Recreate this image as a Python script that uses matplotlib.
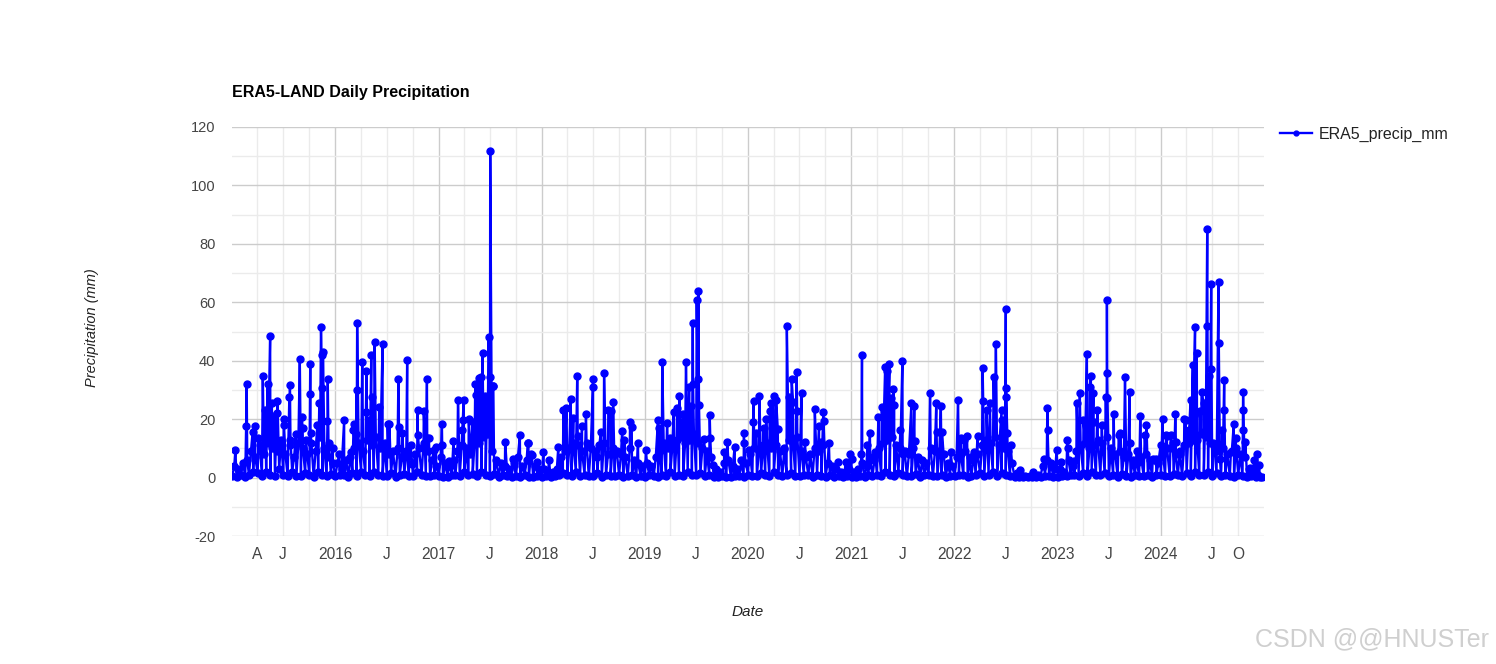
import matplotlib
matplotlib.use('Agg')
import matplotlib.pyplot as plt
import pandas as pd

plt.rcParams['font.family'] = ['Liberation Sans', 'DejaVu Sans']
plt.rcParams['axes.unicode_minus'] = False

# ---- notable rain events (date, mm) ----
spike_dates = [
    "2015-01-13", "2015-02-20", "2015-02-22", "2015-03-15", "2015-03-24", "2015-04-04", "2015-04-20",
    "2015-04-28", "2015-05-07", "2015-05-16", "2015-05-22", "2015-05-30", "2015-06-09", "2015-06-11",
    "2015-07-03", "2015-07-04", "2015-07-23", "2015-07-25", "2015-07-27", "2015-08-15", "2015-08-29",
    "2015-09-05", "2015-09-08", "2015-09-20", "2015-10-04", "2015-10-05", "2015-10-06", "2015-10-30",
    "2015-11-06", "2015-11-12", "2015-11-14", "2015-11-16", "2015-11-19", "2015-12-05", "2015-12-06",
    "2015-12-10", "2015-12-23",
    "2016-01-16", "2016-02-02", "2016-02-26", "2016-03-06", "2016-03-09", "2016-03-15", "2016-03-17",
    "2016-03-19", "2016-04-06", "2016-04-19", "2016-04-21", "2016-04-30", "2016-05-08", "2016-05-12",
    "2016-05-20", "2016-06-05", "2016-06-17", "2016-07-05", "2016-07-11", "2016-08-12", "2016-08-14",
    "2016-08-26", "2016-09-12", "2016-09-13", "2016-09-30", "2016-10-19", "2016-10-20", "2016-11-10",
    "2016-11-21", "2016-11-22", "2016-11-28", "2016-12-16", "2016-12-23",
    "2017-01-13", "2017-01-14", "2017-02-08", "2017-02-23", "2017-03-11", "2017-03-26", "2017-03-28",
    "2017-03-31", "2017-04-18", "2017-05-02", "2017-05-11", "2017-05-13", "2017-05-23", "2017-05-30",
    "2017-06-06", "2017-06-16", "2017-06-21", "2017-06-27", "2017-07-01", "2017-07-03", "2017-07-12",
    "2017-07-14", "2017-08-25", "2017-09-22", "2017-10-16", "2017-11-13", "2017-11-15", "2017-11-27",
    "2017-12-14",
    "2018-01-07", "2018-01-27", "2018-03-01", "2018-03-19", "2018-03-30", "2018-04-14", "2018-04-23",
    "2018-05-07", "2018-05-10", "2018-05-24", "2018-06-07", "2018-07-01", "2018-07-02", "2018-07-17",
    "2018-07-30", "2018-08-10", "2018-08-25", "2018-09-02", "2018-09-11", "2018-09-18", "2018-10-13",
    "2018-10-21", "2018-11-10", "2018-11-16", "2018-12-08",
    "2019-01-05", "2019-02-17", "2019-02-21", "2019-03-04", "2019-03-21", "2019-04-01", "2019-04-13",
    "2019-04-25", "2019-05-04", "2019-05-17", "2019-05-27", "2019-06-07", "2019-06-15", "2019-06-20",
    "2019-06-21", "2019-07-04", "2019-07-07", "2019-07-10", "2019-07-12", "2019-07-31", "2019-08-19",
    "2019-08-21", "2019-08-30", "2019-10-10", "2019-10-20", "2019-11-15", "2019-11-18", "2019-12-18",
    "2019-12-19",
    "2020-01-04", "2020-01-20", "2020-01-21", "2020-01-31", "2020-02-11", "2020-02-26", "2020-03-06",
    "2020-03-18", "2020-03-24", "2020-04-01", "2020-04-10", "2020-04-16", "2020-05-09", "2020-05-18",
    "2020-05-27", "2020-06-04", "2020-06-09", "2020-06-22", "2020-06-23", "2020-07-09", "2020-07-21",
    "2020-08-25", "2020-09-09", "2020-09-17", "2020-09-24", "2020-09-25", "2020-10-14", "2020-11-15",
    "2020-12-12", "2020-12-28",
    "2021-01-02", "2021-02-06", "2021-02-08", "2021-02-27", "2021-03-08", "2021-03-26", "2021-04-07",
    "2021-04-19", "2021-05-01", "2021-05-07", "2021-05-16", "2021-05-22", "2021-05-30", "2021-06-02",
    "2021-06-24", "2021-07-01", "2021-07-04", "2021-08-02", "2021-08-12", "2021-08-13", "2021-10-07",
    "2021-10-29", "2021-10-30", "2021-11-14", "2021-11-18", "2021-12-19",
    "2022-01-14", "2022-01-23", "2022-02-03", "2022-02-15", "2022-03-12", "2022-03-24", "2022-04-11",
    "2022-04-13", "2022-04-25", "2022-05-07", "2022-05-20", "2022-05-28", "2022-06-17", "2022-06-20",
    "2022-07-01", "2022-07-02", "2022-07-03", "2022-07-07", "2022-07-19", "2022-08-23", "2022-10-07",
    "2022-11-15", "2022-11-26", "2022-11-27", "2022-12-29",
    "2023-01-13", "2023-02-04", "2023-02-06", "2023-03-02", "2023-03-10", "2023-03-21", "2023-04-03",
    "2023-04-15", "2023-04-25", "2023-04-29", "2023-05-08", "2023-05-09", "2023-05-22", "2023-06-07",
    "2023-06-21", "2023-06-25", "2023-06-26", "2023-06-27", "2023-07-19", "2023-07-21", "2023-08-06",
    "2023-08-12", "2023-08-28", "2023-09-13", "2023-09-14", "2023-10-10", "2023-10-21", "2023-11-06",
    "2023-11-12", "2023-12-04", "2023-12-16",
    "2024-01-01", "2024-01-08", "2024-01-20", "2024-01-23", "2024-02-06", "2024-02-13", "2024-02-22",
    "2024-02-24", "2024-03-10", "2024-03-25", "2024-03-30", "2024-04-09", "2024-04-16", "2024-04-24",
    "2024-05-02", "2024-05-08", "2024-05-18", "2024-05-25", "2024-06-02", "2024-06-08", "2024-06-14",
    "2024-06-15", "2024-06-21", "2024-06-28", "2024-06-29", "2024-07-03", "2024-07-24", "2024-07-25",
    "2024-07-29", "2024-08-07", "2024-08-13", "2024-08-14", "2024-09-06", "2024-09-16", "2024-09-23",
    "2024-10-18", "2024-10-19", "2024-10-20", "2024-10-27", "2024-11-14", "2024-11-26", "2024-12-08",
    "2024-12-15",
]
spike_mm = [
    9.4, 17.7, 32.0, 15.7, 17.6, 13.4, 34.7, 23.0, 31.9, 48.5, 25.4, 21.0, 22.0, 26.3,
    20.2, 18.0, 27.7, 31.7, 13.0, 15.0, 40.5, 20.8, 17.0, 12.8, 28.5, 39.0, 15.3, 18.0,
    25.6, 51.7, 42.0, 30.5, 42.9, 19.3, 33.6, 12.0, 10.0,
    8.2, 19.7, 8.8, 16.2, 18.3, 15.0, 30.0, 52.8, 39.7, 22.5, 36.6, 19.7, 42.0, 27.7,
    46.5, 24.0, 45.6, 18.3, 18.3, 33.6, 17.4, 15.3, 40.2, 8.8, 4.8, 23.3, 14.7, 22.7,
    33.7, 13.4, 13.7, 9.4, 10.5,
    18.2, 11.3, 5.7, 12.6, 26.5, 16.2, 19.7, 26.5, 20.2, 19.0, 32.2, 28.2, 34.2, 34.5,
    42.5, 27.9, 23.0, 48.0, 34.5, 111.7, 31.4, 31.4, 12.2, 6.5, 14.5, 11.9, 11.9, 7.7,
    5.4,
    8.8, 6.0, 10.5, 23.0, 23.7, 27.0, 20.5, 34.9, 14.3, 17.7, 21.6, 31.0, 33.6, 7.0,
    15.7, 35.9, 23.0, 22.7, 25.7, 8.2, 15.9, 12.8, 18.9, 17.4, 11.7,
    9.4, 19.7, 16.8, 39.4, 18.7, 13.4, 22.5, 23.7, 27.9, 21.7, 39.5, 31.0, 24.6, 52.8,
    32.2, 60.8, 33.9, 63.9, 24.8, 13.1, 21.4, 13.4, 4.2, 8.6, 12.2, 10.3, 3.0, 15.1,
    11.7,
    9.6, 19.1, 26.2, 15.1, 27.9, 16.8, 20.2, 22.7, 25.6, 27.9, 26.7, 16.5, 9.9, 51.9,
    27.7, 33.9, 25.9, 36.2, 22.9, 29.1, 12.1, 23.4, 17.6, 12.2, 22.3, 19.3, 11.7, 5.4,
    5.4, 8.0,
    6.5, 8.2, 41.9, 11.1, 15.1, 8.8, 20.8, 24.2, 37.9, 36.6, 38.9, 27.4, 30.3, 24.8,
    16.2, 39.9, 8.2, 25.6, 24.5, 12.5, 29.0, 25.6, 15.7, 24.5, 15.7, 8.8,
    26.7, 13.6, 13.0, 14.2, 8.8, 14.2, 37.6, 26.3, 23.0, 25.4, 34.5, 45.6, 23.0, 19.7,
    27.7, 57.7, 30.7, 15.4, 11.3, 2.5, 1.9, 6.2, 23.7, 16.2, 9.4,
    5.4, 12.8, 10.0, 5.7, 25.6, 29.1, 19.7, 42.3, 31.0, 34.9, 28.8, 19.1, 23.3, 18.0,
    27.7, 60.8, 35.7, 27.4, 21.9, 7.7, 14.7, 15.1, 34.5, 29.4, 11.9, 5.0, 21.0, 14.7,
    18.0, 6.5, 6.5,
    11.1, 20.2, 14.7, 14.2, 14.5, 11.9, 21.6, 12.2, 8.2, 20.2, 19.7, 16.2, 26.5, 38.5,
    51.7, 42.5, 22.7, 29.4, 25.4, 24.8, 85.0, 51.9, 34.9, 66.2, 37.0, 11.9, 67.1, 46.2,
    6.5, 16.2, 33.4, 23.0, 8.8, 18.3, 13.4, 16.2, 29.4, 23.0, 12.2, 3.3, 6.0, 7.9,
    4.2,
]

# ---- everyday background level, four readings per month (Jan..Dec) ----
bg_2015 = [0.5, 4, 0.2, 3, 1, 5, 0.3, 6, 0.8, 9, 2, 7, 1.5, 11, 0.6, 8, 2, 12, 1, 10, 0.7, 9, 3, 13,
           1, 8, 0.4, 11, 2, 7, 0.5, 12, 0.6, 10, 1.5, 8, 1, 12, 0.3, 9, 2, 14, 1, 10, 0.5, 7, 1.2, 5]
bg_2016 = [0.4, 5, 1, 3, 0.8, 6, 0.3, 7, 1.5, 10, 0.6, 12, 2, 9, 1, 13, 0.5, 11, 2, 14, 1, 10, 0.4, 12,
           0.7, 8, 1.5, 9, 0.3, 10, 1, 7, 1.2, 9, 0.5, 11, 0.6, 8, 2, 10, 1, 12, 0.4, 9, 0.5, 6, 1, 4]
bg_2017 = [0.6, 7, 0.2, 5, 0.3, 4, 1, 6, 1, 9, 0.5, 11, 2, 10, 0.8, 8, 1.2, 13, 0.4, 12, 2, 14, 1, 15,
           0.5, 9, 1.3, 6, 0.2, 5, 0.8, 4, 0.4, 3, 0.1, 5, 0.6, 7, 0.3, 4, 1, 6, 0.2, 8, 0.3, 4, 0.6, 3]
bg_2018 = [0.2, 3, 0.5, 2, 0.1, 2, 0.4, 3, 0.8, 7, 1.5, 9, 1, 10, 0.5, 12, 2, 11, 0.7, 9, 1, 12, 0.4, 10,
           0.6, 9, 1.5, 11, 0.3, 12, 1, 8, 0.7, 10, 0.4, 9, 1, 8, 0.3, 7, 0.5, 10, 1, 6, 0.2, 5, 0.6, 4]
bg_2019 = [0.3, 5, 0.8, 4, 0.6, 7, 0.2, 9, 1, 12, 0.5, 10, 2, 11, 0.7, 13, 1, 14, 0.4, 12, 2, 13, 1, 15,
           0.8, 12, 1.5, 10, 0.4, 9, 1, 7, 0.2, 3, 0.1, 2, 0.4, 5, 0.1, 6, 0.3, 4, 0.6, 3, 0.5, 6, 0.2, 5]
bg_2020 = [1, 8, 0.4, 10, 0.6, 9, 1.5, 11, 1, 12, 0.5, 10, 2, 11, 0.8, 9, 0.5, 10, 1, 13, 1.5, 12, 0.6, 14,
           0.4, 9, 1, 7, 0.8, 8, 0.3, 10, 1, 9, 0.5, 11, 0.3, 5, 0.8, 4, 0.2, 3, 0.5, 2, 0.1, 2, 0.4, 3]
bg_2021 = [0.3, 2, 0.1, 3, 0.5, 5, 0.2, 4, 0.8, 7, 0.4, 6, 1, 10, 0.5, 12, 2, 13, 1, 14, 0.7, 11, 1.5, 10,
           1, 9, 0.4, 8, 0.5, 10, 1.2, 7, 0.3, 6, 0.8, 5, 1, 10, 0.4, 9, 0.6, 9, 1, 8, 0.3, 5, 0.7, 4]
bg_2022 = [0.5, 7, 1, 8, 0.8, 9, 0.3, 7, 0.4, 6, 1, 8, 1.5, 11, 0.6, 13, 1, 12, 2, 14, 0.7, 11, 1.5, 10,
           1, 9, 0.4, 5, 0.2, 1.5, 0.1, 0.8, 0.1, 0.6, 0.2, 0.4, 0.1, 0.5, 0.2, 1, 0.3, 4, 0.6, 6, 0.5, 5, 0.2, 3]
bg_2023 = [0.2, 3, 0.5, 2, 0.4, 6, 0.8, 4, 1, 9, 0.5, 11, 1.5, 12, 0.7, 10, 2, 11, 1, 13, 0.8, 12, 1.5, 14,
           0.5, 10, 1, 8, 0.3, 9, 1.2, 7, 0.6, 8, 0.3, 6, 1, 9, 0.4, 7, 0.5, 8, 1, 6, 0.3, 6, 0.8, 5]
bg_2024 = [1, 9, 0.5, 10, 0.6, 10, 1.2, 8, 0.8, 9, 0.4, 11, 1.5, 12, 0.6, 13, 2, 13, 1, 15, 1, 14, 2, 12,
           0.7, 11, 1.5, 9, 0.4, 10, 1, 8, 0.6, 9, 0.3, 10, 1, 8, 0.5, 7, 0.2, 3, 0.5, 2, 0.1, 1, 0.2, 0.3]
bg_days = [1, 8, 16, 23]  # offsets (days) from month start

x_tick_dates = ["2015-04-01", "2015-07-01", "2016-01-01", "2016-07-01", "2017-01-01", "2017-07-01",
                "2018-01-01", "2018-07-01", "2019-01-01", "2019-07-01", "2020-01-01", "2020-07-01",
                "2021-01-01", "2021-07-01", "2022-01-01", "2022-07-01", "2023-01-01", "2023-07-01",
                "2024-01-01", "2024-07-01", "2024-10-01"]
x_tick_labels = ["A", "J", "2016", "J", "2017", "J", "2018", "J", "2019", "J", "2020", "J",
                 "2021", "J", "2022", "J", "2023", "J", "2024", "J", "O"]

# ---- assemble ----
bg_values = bg_2015 + bg_2016 + bg_2017 + bg_2018 + bg_2019 + bg_2020 + bg_2021 + bg_2022 + bg_2023 + bg_2024
months = pd.date_range("2015-01-01", "2024-12-01", freq="MS")
bg_dates = [m + pd.Timedelta(days=d) for m in months for d in bg_days]
df = pd.DataFrame({
    "date": list(pd.to_datetime(spike_dates)) + bg_dates,
    "mm": spike_mm + bg_values,
}).sort_values("date", kind="stable")

W, H = 1496, 664
fig = plt.figure(figsize=(W / 100, H / 100), dpi=100)
fig.patch.set_facecolor("white")
L, R, T, B = 232, 1264, 127, 536
ax = fig.add_axes([L / W, 1 - B / H, (R - L) / W, (B - T) / H])

# gridlines
for q in pd.date_range("2015-01-01", "2025-01-01", freq="QS"):
    if q.month == 1:
        if q.year in (2015, 2025):
            continue
        ax.axvline(q, color="#cccccc", lw=1, zorder=0)
    else:
        ax.axvline(q, color="#ebebeb", lw=1, zorder=0)
ax.set_yticks(range(-20, 121, 20))
ax.set_yticks(range(-10, 121, 20), minor=True)
ax.grid(axis="y", which="major", color="#cccccc", lw=1, zorder=0)
ax.grid(axis="y", which="minor", color="#ebebeb", lw=1, zorder=0)
ax.set_axisbelow(True)

ax.plot(df["date"], df["mm"], "-o", color="#0000ff", lw=1.7, ms=5,
        label="ERA5_precip_mm", zorder=3)

ax.set_xlim(pd.Timestamp("2015-01-01"), pd.Timestamp("2025-01-01"))
ax.set_ylim(-20, 120)
ax.set_xticks(pd.to_datetime(x_tick_dates))
ax.set_xticklabels(x_tick_labels)
for s in ax.spines.values():
    s.set_visible(False)
ax.tick_params(axis="both", which="both", length=0, colors="#444444")
ax.tick_params(axis="y", pad=12, labelsize=10.5)
ax.tick_params(axis="x", pad=8, labelsize=11.2)

fig.text(L / W, 1 - 92 / H, "ERA5-LAND Daily Precipitation", fontsize=11.5, fontweight="bold",
         color="#000000", ha="left", va="center")
fig.text(92 / W, 1 - 328 / H, "Precipitation (mm)", fontsize=10.5, style="italic",
         color="#222222", rotation=90, ha="center", va="center")
fig.text(748 / W, 1 - 612 / H, "Date", fontsize=11, style="italic",
         color="#222222", ha="center", va="center")

fig.legend(loc="center left", bbox_to_anchor=(1280 / W, 1 - 134 / H), frameon=False,
           fontsize=11.5, handlelength=2.0, handletextpad=0.4, borderpad=0, borderaxespad=0,
           labelcolor="#222222", markerscale=0.7)

fig.text(1489 / W, 1 - 639 / H, "CSDN @@HNUSTer", fontsize=18, color="#cfcfcf",
         ha="right", va="center")

fig.savefig("out.png", dpi=100, facecolor="white")
